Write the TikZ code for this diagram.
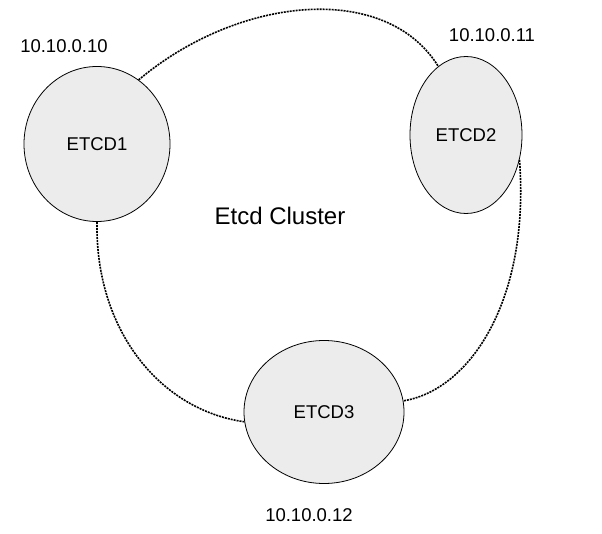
\documentclass[tikz,border=0pt]{standalone}
\usepackage{fontspec}
\setmainfont{Liberation Sans}
\usetikzlibrary{shapes.geometric}
\begin{document}
\begin{tikzpicture}[x=1pt,y=-1pt,
  etcd/.style={ellipse,draw=black,fill=gray!15,line width=0.8pt,font=\fontsize{18.5}{20}\selectfont},
  link/.style={line width=1.6pt,dash pattern=on 2pt off 1pt,draw=black},
  ip/.style={font=\fontsize{18.5}{20}\selectfont}]
\useasboundingbox (0,0) rectangle (602,534);
\node[etcd,minimum width=146pt,minimum height=155pt,inner sep=0pt] (e1) at (97,144) {ETCD1};
\node[etcd,minimum width=112pt,minimum height=157pt,inner sep=0pt] (e2) at (466,135) {ETCD2};
\node[etcd,minimum width=160pt,minimum height=143pt,inner sep=0pt] (e3) at (324,412) {ETCD3};
\node[ip] (ip1) at (64,46) {10.10.0.10};
\node[ip] (ip2) at (492,35) {10.10.0.11};
\node[ip] (ip3) at (309,515) {10.10.0.12};
\node[font=\fontsize{24}{26}\selectfont] (cl) at (280,216) {Etcd Cluster};
\draw[link] (e1.57) .. controls (240,-5) and (386,-18) .. (e2.112);
\draw[link] (e1.south) .. controls (95,330) and (160,410) .. (e3.187);
\draw[link] (e2.-25) .. controls (530,300) and (470,390) .. (e3.8);
\end{tikzpicture}
\end{document}
